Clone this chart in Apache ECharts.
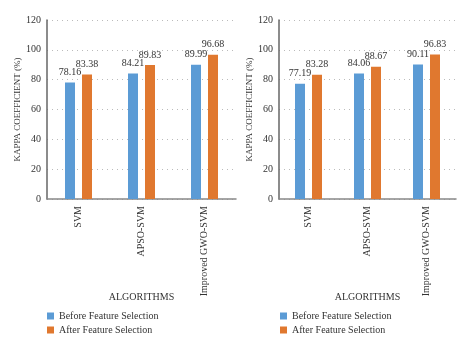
<!DOCTYPE html>
<html>
<head>
<meta charset="utf-8">
<script src="https://cdn.jsdelivr.net/npm/echarts@6/dist/echarts.min.js"></script>
<style>
  html, body { margin: 0; padding: 0; background: #fff; }
  #chart { width: 474px; height: 351px; }
</style>
</head>
<body>
<div id="chart"></div>
<script>
const categories = ['SVM', 'APSO-SVM', 'Improved GWO-SVM']
const seriesNames = ['Before Feature Selection', 'After Feature Selection']
const leftBefore = [78.16, 84.21, 89.99]
const leftAfter = [83.38, 89.83, 96.68]
const rightBefore = [77.19, 84.06, 90.11]
const rightAfter = [83.28, 88.67, 96.83]
const yTicks = [0, 20, 40, 60, 80, 100, 120]

const font = 'Liberation Serif'
const colors = ['#5b9bd5', '#e0782f']

function xAxisFor(gridIndex) {
  return {
    type: 'category',
    gridIndex: gridIndex,
    data: categories,
    name: 'ALGORITHMS',
    nameLocation: 'middle',
    nameGap: 93,
    nameMoveOverlap: false,
    nameTextStyle: { fontFamily: font, fontSize: 10, color: '#333' },
    axisTick: { show: false },
    axisLine: { lineStyle: { color: '#888', width: 1.5 } },
    axisLabel: { rotate: 90, fontFamily: font, fontSize: 10, color: '#333', margin: 7 }
  }
}

function yAxisFor(gridIndex) {
  return {
    type: 'value',
    gridIndex: gridIndex,
    min: yTicks[0],
    max: yTicks[yTicks.length - 1],
    interval: 20,
    name: 'KAPPA COEFFICIENT (%)',
    nameLocation: 'middle',
    nameGap: 20,
    nameTextStyle: { fontFamily: font, fontSize: 9, color: '#333' },
    axisLine: { show: true, lineStyle: { color: '#666', width: 1.5 } },
    axisTick: { show: false },
    axisLabel: { fontFamily: font, fontSize: 10, color: '#333', margin: 6 },
    splitLine: { lineStyle: { color: '#bbb', type: [1, 4] } }
  }
}

function barSeries(name, data, idx, color) {
  return {
    type: 'bar',
    name: name,
    xAxisIndex: idx,
    yAxisIndex: idx,
    data: data,
    barWidth: 10,
    barGap: '70%',
    itemStyle: { color: color },
    label: {
      show: true,
      position: 'top',
      distance: 5,
      fontFamily: font,
      fontSize: 10,
      color: '#333',
      formatter: p => p.value.toFixed(2)
    }
  }
}

function legendAt(left) {
  return {
    orient: 'vertical',
    left: left,
    top: 311,
    padding: 0,
    itemWidth: 7,
    itemHeight: 7,
    itemGap: 4,
    icon: 'rect',
    data: seriesNames,
    textStyle: { fontFamily: font, fontSize: 10, color: '#333' }
  }
}

const myChart = echarts.init(document.getElementById('chart'))
const option = {
  animation: false,
  color: colors,
  legend: [legendAt(47), legendAt(280)],
  grid: [
    { left: 47, top: 20, width: 189, height: 179 },
    { left: 279, top: 20, width: 177, height: 179 }
  ],
  xAxis: [xAxisFor(0), xAxisFor(1)],
  yAxis: [yAxisFor(0), yAxisFor(1)],
  series: [
    barSeries(seriesNames[0], leftBefore, 0, colors[0]),
    barSeries(seriesNames[1], leftAfter, 0, colors[1]),
    barSeries(seriesNames[0], rightBefore, 1, colors[0]),
    barSeries(seriesNames[1], rightAfter, 1, colors[1])
  ]
}
option && myChart.setOption(option)
</script>
</body>
</html>
